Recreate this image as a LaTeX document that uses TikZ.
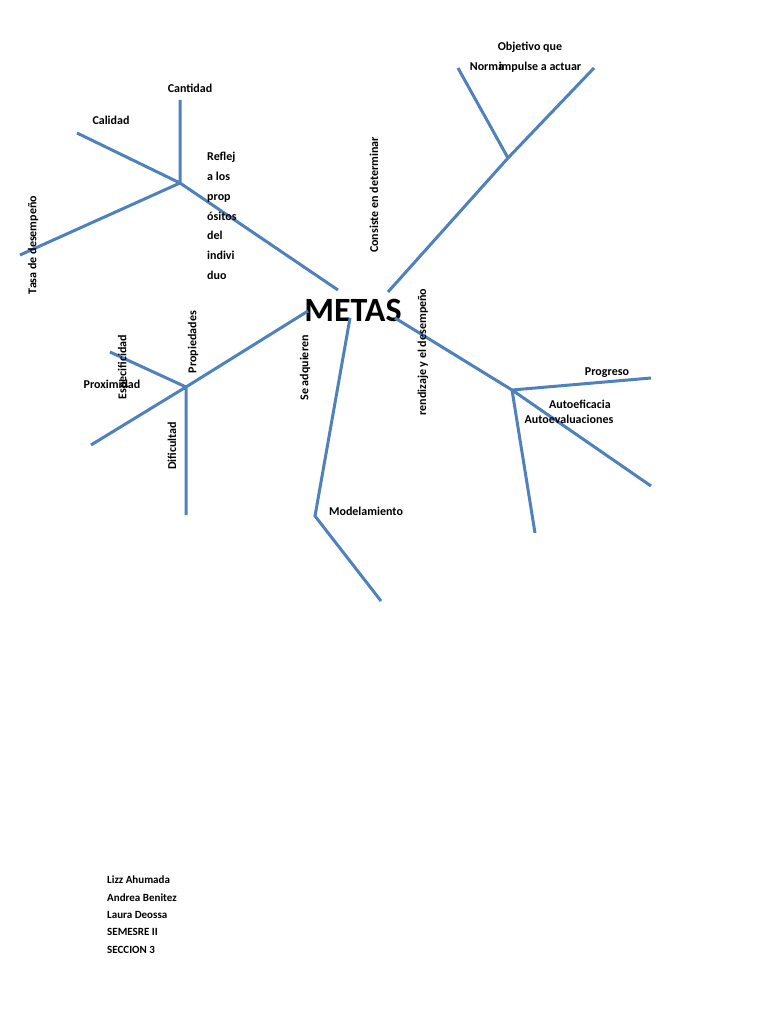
\documentclass[tikz,border=0pt]{standalone}
\usepackage{fontspec}
\setmainfont{Carlito}
\definecolor{br}{RGB}{79,129,189}
\begin{document}
\begin{tikzpicture}[x=1pt,y=-1pt,
  br/.style={draw=br,line width=3pt},
  lbl/.style={font=\bfseries\fontsize{12}{14}\selectfont,inner sep=0pt},
  vl/.style={lbl,rotate=90}]
\useasboundingbox (0,0) rectangle (768,1024);
\node[font=\bfseries\fontsize{34}{38}\selectfont,inner sep=0pt] (m) at (353,310) {METAS};
% upper left
\coordinate (a0) at (338,290); \coordinate (a1) at (180,183);
\coordinate (a2) at (180,100); \coordinate (a3) at (77,133); \coordinate (a4) at (20,255);
\draw[br] (a0)--(a1) (a1)--(a2) (a1)--(a3) (a1)--(a4);
\node[lbl] (t1) at (190,88) {Cantidad};
\node[lbl] (t2) at (111,120) {Calidad};
\node[vl] (t3) at (33,245) {Tasa de desempeño};
\node[lbl,anchor=north west,align=left,font=\bfseries\fontsize{12}{19.8}\selectfont] (t4) at (207,152) {Reflej\\a los\\prop\\ósitos\\del\\indivi\\duo};
% upper right
\coordinate (b0) at (388,292); \coordinate (b1) at (508,158);
\coordinate (b2) at (458,68); \coordinate (b3) at (594,68);
\draw[br] (b0)--(b1) (b1)--(b2) (b1)--(b3);
\node[lbl] (t5) at (530,47) {Objetivo que};
\node[lbl] (t6) at (487,67) {Norma};
\node[lbl] (t7) at (540,67) {impulse a actuar};
\node[vl] (t8) at (374,195) {Consiste en determinar};
% left
\coordinate (c0) at (308,311); \coordinate (c1) at (186,387);
\coordinate (c2) at (91,445); \coordinate (c3) at (110,352); \coordinate (c4) at (186,515);
\draw[br] (c0)--(c1) (c1)--(c2) (c1)--(c3) (c1)--(c4);
\node[lbl] (t9) at (112,384) {Proximidad};
\node[vl] (t10) at (123,367) {Especificidad};
\node[vl] (t11) at (193,342) {Propiedades};
\node[vl] (t12) at (172,446) {Dificultad};
% down
\coordinate (d0) at (350,318); \coordinate (d1) at (315,516); \coordinate (d2) at (381,601);
\draw[br] (d0)--(d1)--(d2);
\node[lbl] (t13) at (366,511) {Modelamiento};
\node[vl] (t14) at (305,368) {Se adquieren};
% right
\coordinate (e0) at (395,318); \coordinate (e1) at (512,390);
\coordinate (e2) at (651,486); \coordinate (e3) at (651,378); \coordinate (e4) at (535,533);
\draw[br] (e0)--(e1)--(e2) (e1)--(e3) (e1)--(e4);
\node[lbl] (t15) at (607,373) {Progreso};
\node[lbl] (t16) at (580,404) {Autoeficacia};
\node[lbl] (t17) at (569,419) {Autoevaluaciones};
\node[vl] (t18) at (423,352) {rendizaje y el desempeño};
% authors
\node[lbl,anchor=north west,align=left,font=\bfseries\fontsize{11}{17.3}\selectfont] (au) at (107,876) {Lizz Ahumada\\Andrea Benitez\\Laura Deossa\\SEMESRE II\\SECCION 3};
\end{tikzpicture}
\end{document}
